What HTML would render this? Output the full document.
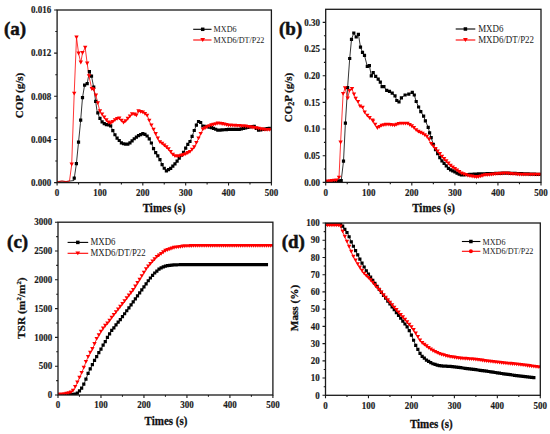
<!DOCTYPE html><html><head><meta charset="utf-8"><style>html,body{margin:0;padding:0;background:#fff}svg{display:block}</style></head><body><svg width="550" height="434" viewBox="0 0 550 434">
<style>.tl{font-family:"Liberation Serif", serif;font-weight:bold;font-size:9px;fill:#1a1a1a;stroke:#1a1a1a;stroke-width:0.15}.al{font-family:"Liberation Serif", serif;font-weight:bold;font-size:11px;fill:#111;stroke:#111;stroke-width:0.25}.pl{font-family:"Liberation Serif", serif;font-weight:bold;font-size:19px;fill:#111;stroke:#111;stroke-width:0.5}.lg{font-family:"Liberation Serif", serif;fill:#1a1a1a}</style>
<rect width="550" height="434" fill="#fff"/>
<text x="4" y="35" class="pl">(a)</text>
<text x="279" y="35" class="pl">(b)</text>
<text x="7.1" y="247.5" class="pl">(c)</text>
<text x="281.7" y="247.8" class="pl">(d)</text>
<text transform="translate(164.1 212.1) scale(1 1.12)" class="al" text-anchor="middle">Times (s)</text>
<text transform="translate(433.6 212.1) scale(1 1.12)" class="al" text-anchor="middle">Times (s)</text>
<text transform="translate(166 424.9) scale(1 1.12)" class="al" text-anchor="middle">Times (s)</text>
<text transform="translate(431.3 428) scale(1 1.12)" class="al" text-anchor="middle">Times (s)</text>
<text transform="translate(22.8 95.5) rotate(-90) scale(1.0 1)" class="al" text-anchor="middle">COP (g/s)</text>
<text transform="translate(291.6 97.5) rotate(-90) scale(1.0 1)" class="al" text-anchor="middle">CO<tspan font-size="8" dy="2.5">2</tspan><tspan dy="-2.5">P (g/s)</tspan></text>
<text transform="translate(25.4 308.2) rotate(-90) scale(1.04 1)" class="al" text-anchor="middle">TSR (m<tspan font-size="6.5" dy="-4">2</tspan><tspan dy="4">/m</tspan><tspan font-size="6.5" dy="-4">2</tspan><tspan dy="4">)</tspan></text>
<text transform="translate(298.2 308) rotate(-90) scale(1.02 1)" class="al" text-anchor="middle">Mass (%)</text>
<clipPath id="cpa"><rect x="57.1" y="10" width="214.3" height="172.6"/></clipPath>
<g clip-path="url(#cpa)">
<polyline points="57.1,181.8 62,181.2 66,181.6 73.9,180.5 76.3,164.6 78.5,142.4 80.4,123.5 82.5,97.6 84.6,85.1 87.2,83.6 89.4,71.6 91.5,76.2 93.7,87.2 96.9,110.2 99,116.5 101.5,121.4 104,123.5 106.3,124.7 110.3,125 112.7,130.3 116,136.8 121.6,143.2 125,144.2 128.9,144 133.7,139.2 137.7,136 143.4,133.3 148.2,136.8 151.5,143.2 153.9,149.7 157.9,156.1 160,159.6 163.1,166.9 166.4,170.8 170.2,168.8 175.3,163.5 179.1,158.4 184.2,151.4 186.7,145.9 190.5,140.8 193.5,132.4 197.6,122 199.7,120.9 202.9,126.1 210.2,127.2 218.5,130.3 229,129.3 239.4,129.3 254.1,126.1 258.3,130.3 269.8,128.2" fill="none" stroke="#000" stroke-width="0.8"/>
<polyline points="57.1,181.6 62,181 66,181.5 69.5,181 71.7,164.5 74.2,93.7 76.5,37.5 78.6,53.5 80.8,62.5 82.5,53 85.2,47.7 87.2,63.5 89,76.2 91.8,89 93.7,89.6 95.9,95.5 99.8,111 103.1,115.8 107.9,122.3 111.1,123.3 116,119.2 119.2,118.4 124,123.1 128.9,117.5 132.9,113.4 136.2,116 137.7,111 143.4,112.6 147.4,115.8 149.9,122.3 154.7,132 159.5,141.7 165.9,146.6 168.4,149 174,156 178,156.5 185,154.5 190.5,151.6 194.4,147 197,141.5 202.9,129.3 210.2,125.6 218.5,123.3 229,125.4 243.6,126.2 254.1,127.8 265,129.9 271.4,129.8" fill="none" stroke="#f00" stroke-width="0.8"/>
<path d="M72.64 176.62h3.2v3.2h-3.2zM74.79 162.12h3.2v3.2h-3.2zM76.93 140.5h3.2v3.2h-3.2zM79.07 118.53h3.2v3.2h-3.2zM94.07 99.79h3.2v3.2h-3.2zM96.22 111.35h3.2v3.2h-3.2zM98.36 116.78h3.2v3.2h-3.2zM100.5 120.31h3.2v3.2h-3.2zM102.65 122.03h3.2v3.2h-3.2zM104.79 123.11h3.2v3.2h-3.2zM106.93 123.27h3.2v3.2h-3.2zM109.08 124.23h3.2v3.2h-3.2zM111.22 128.93h3.2v3.2h-3.2zM113.36 133.15h3.2v3.2h-3.2zM115.5 136.46h3.2v3.2h-3.2zM117.65 138.91h3.2v3.2h-3.2zM119.79 141.36h3.2v3.2h-3.2zM121.93 142.17h3.2v3.2h-3.2zM124.08 142.57h3.2v3.2h-3.2zM126.22 142.46h3.2v3.2h-3.2zM128.36 141.34h3.2v3.2h-3.2zM130.5 139.19h3.2v3.2h-3.2zM132.65 137.16h3.2v3.2h-3.2zM134.79 135.45h3.2v3.2h-3.2zM136.93 134h3.2v3.2h-3.2zM139.08 132.99h3.2v3.2h-3.2zM141.22 131.97h3.2v3.2h-3.2zM143.36 132.84h3.2v3.2h-3.2zM145.51 134.4h3.2v3.2h-3.2zM147.65 137.23h3.2v3.2h-3.2zM149.79 141.39h3.2v3.2h-3.2zM151.94 147.11h3.2v3.2h-3.2zM154.08 150.94h3.2v3.2h-3.2zM156.22 154.37h3.2v3.2h-3.2zM158.36 157.94h3.2v3.2h-3.2zM160.51 162.96h3.2v3.2h-3.2zM162.65 166.66h3.2v3.2h-3.2zM164.79 169.19h3.2v3.2h-3.2zM166.94 168.08h3.2v3.2h-3.2zM169.08 166.7h3.2v3.2h-3.2zM171.22 164.48h3.2v3.2h-3.2zM173.37 162.25h3.2v3.2h-3.2zM175.51 159.47h3.2v3.2h-3.2zM177.65 156.59h3.2v3.2h-3.2zM179.79 153.65h3.2v3.2h-3.2zM181.94 150.71h3.2v3.2h-3.2zM184.08 146.54h3.2v3.2h-3.2zM186.22 142.79h3.2v3.2h-3.2zM188.37 139.92h3.2v3.2h-3.2zM190.51 134.69h3.2v3.2h-3.2zM192.65 128.89h3.2v3.2h-3.2zM194.79 123.46h3.2v3.2h-3.2zM196.94 119.91h3.2v3.2h-3.2zM199.08 120.89h3.2v3.2h-3.2zM201.22 124.38h3.2v3.2h-3.2zM203.37 124.81h3.2v3.2h-3.2zM205.51 125.13h3.2v3.2h-3.2zM207.65 125.46h3.2v3.2h-3.2zM209.8 126.05h3.2v3.2h-3.2zM211.94 126.85h3.2v3.2h-3.2zM214.08 127.65h3.2v3.2h-3.2zM216.22 128.45h3.2v3.2h-3.2zM218.37 128.56h3.2v3.2h-3.2zM220.51 128.36h3.2v3.2h-3.2zM222.65 128.15h3.2v3.2h-3.2zM224.8 127.95h3.2v3.2h-3.2zM226.94 127.74h3.2v3.2h-3.2zM229.08 127.7h3.2v3.2h-3.2zM231.23 127.7h3.2v3.2h-3.2zM233.37 127.7h3.2v3.2h-3.2zM235.51 127.7h3.2v3.2h-3.2zM237.65 127.7h3.2v3.2h-3.2zM239.8 127.27h3.2v3.2h-3.2zM241.94 126.8h3.2v3.2h-3.2zM244.08 126.33h3.2v3.2h-3.2zM246.23 125.87h3.2v3.2h-3.2zM248.37 125.4h3.2v3.2h-3.2zM250.51 124.93h3.2v3.2h-3.2zM252.66 124.66h3.2v3.2h-3.2zM254.8 126.8h3.2v3.2h-3.2zM256.94 128.66h3.2v3.2h-3.2zM259.08 128.26h3.2v3.2h-3.2zM261.23 127.87h3.2v3.2h-3.2zM263.37 127.48h3.2v3.2h-3.2zM265.51 127.09h3.2v3.2h-3.2zM267.66 126.7h3.2v3.2h-3.2zM80.9 96h3.2v3.2h-3.2zM83 83.5h3.2v3.2h-3.2zM85.6 82h3.2v3.2h-3.2zM87.8 70h3.2v3.2h-3.2zM89.9 74.6h3.2v3.2h-3.2zM92.1 85.6h3.2v3.2h-3.2z" fill="#000"/>
<path d="M95.62 101.22h4.4l-2.2 3.8zM97.76 109.33h4.4l-2.2 3.8zM99.9 112.45h4.4l-2.2 3.8zM102.05 115.45h4.4l-2.2 3.8zM104.19 118.35h4.4l-2.2 3.8zM106.33 120.6h4.4l-2.2 3.8zM108.47 121.27h4.4l-2.2 3.8zM110.62 119.96h4.4l-2.2 3.8zM112.76 118.17h4.4l-2.2 3.8zM114.9 117.02h4.4l-2.2 3.8zM117.05 116.55h4.4l-2.2 3.8zM119.19 118.64h4.4l-2.2 3.8zM121.33 120.74h4.4l-2.2 3.8zM123.48 119.28h4.4l-2.2 3.8zM125.62 116.84h4.4l-2.2 3.8zM127.76 114.51h4.4l-2.2 3.8zM129.91 112.31h4.4l-2.2 3.8zM132.05 112.56h4.4l-2.2 3.8zM134.19 113.46h4.4l-2.2 3.8zM136.33 109.33h4.4l-2.2 3.8zM138.48 109.94h4.4l-2.2 3.8zM140.62 110.54h4.4l-2.2 3.8zM142.76 111.95h4.4l-2.2 3.8zM144.91 113.66h4.4l-2.2 3.8zM147.05 118.71h4.4l-2.2 3.8zM149.19 123.42h4.4l-2.2 3.8zM151.34 127.75h4.4l-2.2 3.8zM153.48 132.08h4.4l-2.2 3.8zM155.62 136.41h4.4l-2.2 3.8zM157.76 140.16h4.4l-2.2 3.8zM159.91 141.8h4.4l-2.2 3.8zM162.05 143.44h4.4l-2.2 3.8zM164.19 145.17h4.4l-2.2 3.8zM166.34 147.27h4.4l-2.2 3.8zM168.48 149.95h4.4l-2.2 3.8zM170.62 152.63h4.4l-2.2 3.8zM172.77 154.22h4.4l-2.2 3.8zM174.91 154.49h4.4l-2.2 3.8zM177.05 154.24h4.4l-2.2 3.8zM179.19 153.63h4.4l-2.2 3.8zM181.34 153.02h4.4l-2.2 3.8zM183.48 152.24h4.4l-2.2 3.8zM185.62 151.11h4.4l-2.2 3.8zM187.77 149.98h4.4l-2.2 3.8zM189.91 147.8h4.4l-2.2 3.8zM192.05 145.27h4.4l-2.2 3.8zM194.19 140.88h4.4l-2.2 3.8zM196.34 136.42h4.4l-2.2 3.8zM198.48 131.99h4.4l-2.2 3.8zM200.62 127.56h4.4l-2.2 3.8zM202.77 126.35h4.4l-2.2 3.8zM204.91 125.27h4.4l-2.2 3.8zM207.05 124.18h4.4l-2.2 3.8zM209.2 123.37h4.4l-2.2 3.8zM211.34 122.77h4.4l-2.2 3.8zM213.48 122.18h4.4l-2.2 3.8zM215.62 121.59h4.4l-2.2 3.8zM217.77 121.69h4.4l-2.2 3.8zM219.91 122.12h4.4l-2.2 3.8zM222.05 122.55h4.4l-2.2 3.8zM224.2 122.98h4.4l-2.2 3.8zM226.34 123.41h4.4l-2.2 3.8zM228.48 123.59h4.4l-2.2 3.8zM230.63 123.71h4.4l-2.2 3.8zM232.77 123.83h4.4l-2.2 3.8zM234.91 123.94h4.4l-2.2 3.8zM237.05 124.06h4.4l-2.2 3.8zM239.2 124.18h4.4l-2.2 3.8zM241.34 124.3h4.4l-2.2 3.8zM243.48 124.62h4.4l-2.2 3.8zM245.63 124.94h4.4l-2.2 3.8zM247.77 125.27h4.4l-2.2 3.8zM249.91 125.6h4.4l-2.2 3.8zM252.06 125.93h4.4l-2.2 3.8zM254.2 126.34h4.4l-2.2 3.8zM256.34 126.76h4.4l-2.2 3.8zM258.49 127.17h4.4l-2.2 3.8zM260.63 127.58h4.4l-2.2 3.8zM262.77 127.99h4.4l-2.2 3.8zM264.91 127.97h4.4l-2.2 3.8zM267.06 127.93h4.4l-2.2 3.8zM269.2 127.9h4.4l-2.2 3.8zM69.5 162.6h4.4l-2.2 3.8zM72 91.8h4.4l-2.2 3.8zM74.3 35.6h4.4l-2.2 3.8zM76.4 51.6h4.4l-2.2 3.8zM78.6 60.6h4.4l-2.2 3.8zM80.3 51.1h4.4l-2.2 3.8zM83 45.8h4.4l-2.2 3.8zM85 61.6h4.4l-2.2 3.8zM86.8 74.3h4.4l-2.2 3.8zM89.6 87.1h4.4l-2.2 3.8zM91.5 87.7h4.4l-2.2 3.8zM93.7 93.6h4.4l-2.2 3.8z" fill="#f00"/>
</g>
<clipPath id="cpb"><rect x="325.7" y="9.3" width="215.3" height="173.1"/></clipPath>
<g clip-path="url(#cpb)">
<polyline points="325.5,181.8 341.2,180.7 343.5,161.2 345.4,123.2 347.6,87.6 349.7,58.5 351.5,39.4 353.8,33 356.2,37 358.4,34.3 360.5,47.2 362.5,52.3 364.5,55.4 367.3,66.4 369.4,65.6 371.3,75.8 373.2,72.6 375.7,76.4 378.2,79.2 380.3,82.1 382.1,86.7 383.9,86.7 386.7,90.4 389.5,91.3 392.2,93.2 395,95.9 396.8,100.5 399,102 401.4,97.8 405.1,95 408.8,94.1 412.3,92.3 414.3,95 416.2,101.5 418.6,107 420.8,111.6 423.6,116.2 425.4,120.8 428.2,127.3 429.6,132.8 434.5,147.9 441.1,159.9 449.1,169.1 461,175 479.6,173.9 506.1,173.1 539.3,174.4" fill="none" stroke="#000" stroke-width="0.8"/>
<polyline points="325.5,181.5 332,181 336.5,180.4 339,177.7 340.6,142.5 343.1,93.8 345.1,88.1 347.7,98.4 349.4,90.9 352,89 354,94.4 355.7,98.7 358,101.9 360.1,106.3 362.6,107.6 364.7,112.3 367.3,115.7 369.6,118 372.4,120.3 377.5,128.2 382.1,125.4 387.6,124.5 395,125.4 399.6,123.6 407.9,123.6 413.4,127.3 417.1,131 422.6,133.7 428.2,137.4 430.5,143 437.1,150.8 443.8,158.7 451.7,166.7 461,173.3 469,176 476.9,177.3 484.9,175.2 504.8,173.3 519.4,174.6 541,174.6" fill="none" stroke="#f00" stroke-width="0.8"/>
<path d="M324.1 180.19h3.2v3.2h-3.2zM326.25 180.04h3.2v3.2h-3.2zM328.41 179.88h3.2v3.2h-3.2zM330.56 179.73h3.2v3.2h-3.2zM332.71 179.58h3.2v3.2h-3.2zM334.86 179.43h3.2v3.2h-3.2zM337.02 179.28h3.2v3.2h-3.2zM339.17 179.13h3.2v3.2h-3.2zM429.6 136.12h3.2v3.2h-3.2zM431.75 142.76h3.2v3.2h-3.2zM433.9 148.12h3.2v3.2h-3.2zM436.06 152.04h3.2v3.2h-3.2zM438.21 155.95h3.2v3.2h-3.2zM440.36 159.29h3.2v3.2h-3.2zM442.51 161.77h3.2v3.2h-3.2zM444.67 164.24h3.2v3.2h-3.2zM446.82 166.72h3.2v3.2h-3.2zM448.97 168.23h3.2v3.2h-3.2zM451.13 169.3h3.2v3.2h-3.2zM453.28 170.37h3.2v3.2h-3.2zM455.43 171.43h3.2v3.2h-3.2zM457.59 172.5h3.2v3.2h-3.2zM459.74 173.38h3.2v3.2h-3.2zM461.89 173.25h3.2v3.2h-3.2zM464.04 173.13h3.2v3.2h-3.2zM466.2 173h3.2v3.2h-3.2zM468.35 172.87h3.2v3.2h-3.2zM470.5 172.74h3.2v3.2h-3.2zM472.66 172.62h3.2v3.2h-3.2zM474.81 172.49h3.2v3.2h-3.2zM476.96 172.36h3.2v3.2h-3.2zM479.12 172.27h3.2v3.2h-3.2zM481.27 172.2h3.2v3.2h-3.2zM483.42 172.14h3.2v3.2h-3.2zM485.57 172.07h3.2v3.2h-3.2zM487.73 172.01h3.2v3.2h-3.2zM489.88 171.94h3.2v3.2h-3.2zM492.03 171.88h3.2v3.2h-3.2zM494.19 171.81h3.2v3.2h-3.2zM496.34 171.75h3.2v3.2h-3.2zM498.49 171.68h3.2v3.2h-3.2zM500.65 171.62h3.2v3.2h-3.2zM502.8 171.55h3.2v3.2h-3.2zM504.95 171.52h3.2v3.2h-3.2zM507.1 171.6h3.2v3.2h-3.2zM509.26 171.69h3.2v3.2h-3.2zM511.41 171.77h3.2v3.2h-3.2zM513.56 171.85h3.2v3.2h-3.2zM515.72 171.94h3.2v3.2h-3.2zM517.87 172.02h3.2v3.2h-3.2zM520.02 172.11h3.2v3.2h-3.2zM522.18 172.19h3.2v3.2h-3.2zM524.33 172.28h3.2v3.2h-3.2zM526.48 172.36h3.2v3.2h-3.2zM528.63 172.45h3.2v3.2h-3.2zM530.79 172.53h3.2v3.2h-3.2zM532.94 172.61h3.2v3.2h-3.2zM535.09 172.7h3.2v3.2h-3.2zM537.25 172.78h3.2v3.2h-3.2zM339.6 179.1h3.2v3.2h-3.2zM341.9 159.6h3.2v3.2h-3.2zM343.8 121.6h3.2v3.2h-3.2zM346 86h3.2v3.2h-3.2zM348.1 56.9h3.2v3.2h-3.2zM349.9 37.8h3.2v3.2h-3.2zM352.2 31.4h3.2v3.2h-3.2zM354.6 35.4h3.2v3.2h-3.2zM356.8 32.7h3.2v3.2h-3.2zM358.9 45.6h3.2v3.2h-3.2zM360.9 50.7h3.2v3.2h-3.2zM362.9 53.8h3.2v3.2h-3.2zM365.7 64.8h3.2v3.2h-3.2zM367.8 64h3.2v3.2h-3.2zM369.7 74.2h3.2v3.2h-3.2zM371.6 71h3.2v3.2h-3.2zM374.1 74.8h3.2v3.2h-3.2zM376.6 77.6h3.2v3.2h-3.2zM378.7 80.5h3.2v3.2h-3.2zM380.5 85.1h3.2v3.2h-3.2zM382.3 85.1h3.2v3.2h-3.2zM385.1 88.8h3.2v3.2h-3.2zM387.9 89.7h3.2v3.2h-3.2zM390.6 91.6h3.2v3.2h-3.2zM393.4 94.3h3.2v3.2h-3.2zM395.2 98.9h3.2v3.2h-3.2zM397.4 100.4h3.2v3.2h-3.2zM399.8 96.2h3.2v3.2h-3.2zM403.5 93.4h3.2v3.2h-3.2zM407.2 92.5h3.2v3.2h-3.2zM410.7 90.7h3.2v3.2h-3.2zM412.7 93.4h3.2v3.2h-3.2zM414.6 99.9h3.2v3.2h-3.2zM417 105.4h3.2v3.2h-3.2zM419.2 110h3.2v3.2h-3.2zM422 114.6h3.2v3.2h-3.2zM423.8 119.2h3.2v3.2h-3.2zM426.6 125.7h3.2v3.2h-3.2zM428 131.2h3.2v3.2h-3.2z" fill="#000"/>
<path d="M323.5 179.58h4.4l-2.2 3.8zM325.65 179.42h4.4l-2.2 3.8zM327.81 179.25h4.4l-2.2 3.8zM329.96 179.08h4.4l-2.2 3.8zM332.11 178.79h4.4l-2.2 3.8zM334.26 178.5h4.4l-2.2 3.8zM370.87 119.43h4.4l-2.2 3.8zM373.02 122.77h4.4l-2.2 3.8zM375.17 126.1h4.4l-2.2 3.8zM377.32 125.07h4.4l-2.2 3.8zM379.48 123.76h4.4l-2.2 3.8zM381.63 123.22h4.4l-2.2 3.8zM383.78 122.86h4.4l-2.2 3.8zM385.94 122.67h4.4l-2.2 3.8zM388.09 122.93h4.4l-2.2 3.8zM390.24 123.19h4.4l-2.2 3.8zM392.4 123.45h4.4l-2.2 3.8zM394.55 122.82h4.4l-2.2 3.8zM396.7 121.97h4.4l-2.2 3.8zM398.86 121.7h4.4l-2.2 3.8zM401.01 121.7h4.4l-2.2 3.8zM403.16 121.7h4.4l-2.2 3.8zM405.31 121.7h4.4l-2.2 3.8zM407.47 122.89h4.4l-2.2 3.8zM409.62 124.34h4.4l-2.2 3.8zM411.77 125.97h4.4l-2.2 3.8zM413.93 128.13h4.4l-2.2 3.8zM416.08 129.68h4.4l-2.2 3.8zM418.23 130.74h4.4l-2.2 3.8zM420.38 131.79h4.4l-2.2 3.8zM422.54 133.21h4.4l-2.2 3.8zM424.69 134.64h4.4l-2.2 3.8zM426.84 137.55h4.4l-2.2 3.8zM429 141.92h4.4l-2.2 3.8zM431.15 144.47h4.4l-2.2 3.8zM433.3 147.01h4.4l-2.2 3.8zM435.46 149.56h4.4l-2.2 3.8zM437.61 152.09h4.4l-2.2 3.8zM439.76 154.63h4.4l-2.2 3.8zM441.92 157.12h4.4l-2.2 3.8zM444.07 159.3h4.4l-2.2 3.8zM446.22 161.48h4.4l-2.2 3.8zM448.37 163.66h4.4l-2.2 3.8zM450.53 165.53h4.4l-2.2 3.8zM452.68 167.06h4.4l-2.2 3.8zM454.83 168.58h4.4l-2.2 3.8zM456.99 170.11h4.4l-2.2 3.8zM459.14 171.51h4.4l-2.2 3.8zM461.29 172.24h4.4l-2.2 3.8zM463.44 172.97h4.4l-2.2 3.8zM465.6 173.69h4.4l-2.2 3.8zM467.75 174.26h4.4l-2.2 3.8zM469.9 174.61h4.4l-2.2 3.8zM472.06 174.97h4.4l-2.2 3.8zM474.21 175.32h4.4l-2.2 3.8zM476.36 174.96h4.4l-2.2 3.8zM478.52 174.4h4.4l-2.2 3.8zM480.67 173.83h4.4l-2.2 3.8zM482.82 173.29h4.4l-2.2 3.8zM484.98 173.08h4.4l-2.2 3.8zM487.13 172.88h4.4l-2.2 3.8zM489.28 172.67h4.4l-2.2 3.8zM491.43 172.47h4.4l-2.2 3.8zM493.59 172.26h4.4l-2.2 3.8zM495.74 172.05h4.4l-2.2 3.8zM497.89 171.85h4.4l-2.2 3.8zM500.05 171.64h4.4l-2.2 3.8zM502.2 171.44h4.4l-2.2 3.8zM504.35 171.56h4.4l-2.2 3.8zM506.5 171.75h4.4l-2.2 3.8zM508.66 171.94h4.4l-2.2 3.8zM510.81 172.13h4.4l-2.2 3.8zM512.96 172.32h4.4l-2.2 3.8zM515.12 172.51h4.4l-2.2 3.8zM517.27 172.7h4.4l-2.2 3.8zM519.42 172.7h4.4l-2.2 3.8zM521.58 172.7h4.4l-2.2 3.8zM523.73 172.7h4.4l-2.2 3.8zM525.88 172.7h4.4l-2.2 3.8zM528.03 172.7h4.4l-2.2 3.8zM530.19 172.7h4.4l-2.2 3.8zM532.34 172.7h4.4l-2.2 3.8zM534.49 172.7h4.4l-2.2 3.8zM536.65 172.7h4.4l-2.2 3.8zM538.8 172.7h4.4l-2.2 3.8zM336.8 175.8h4.4l-2.2 3.8zM338.4 140.6h4.4l-2.2 3.8zM340.9 91.9h4.4l-2.2 3.8zM342.9 86.2h4.4l-2.2 3.8zM345.5 96.5h4.4l-2.2 3.8zM347.2 89h4.4l-2.2 3.8zM349.8 87.1h4.4l-2.2 3.8zM351.8 92.5h4.4l-2.2 3.8zM353.5 96.8h4.4l-2.2 3.8zM355.8 100h4.4l-2.2 3.8zM357.9 104.4h4.4l-2.2 3.8zM360.4 105.7h4.4l-2.2 3.8zM362.5 110.4h4.4l-2.2 3.8zM365.1 113.8h4.4l-2.2 3.8zM367.4 116.1h4.4l-2.2 3.8zM370.2 118.4h4.4l-2.2 3.8z" fill="#f00"/>
</g>
<clipPath id="cpc"><rect x="58" y="222.2" width="214.9" height="172.8"/></clipPath>
<g clip-path="url(#cpc)">
<polyline points="58,394.6 74,394.4 76.8,393.6 79.5,390.9 82.3,387.3 84.5,382.7 86.3,378.1 88.2,373.1 90.4,368.5 92.5,364.5 94.5,360.5 96.8,356.4 99.1,352.1 101.4,348.5 103.4,344.5 105.5,341.2 107.3,337.5 109.5,333.9 111.8,330.3 114.1,327.5 116.4,324.4 118.6,321.6 120.9,318.9 141.4,290.5 148.2,280.8 153.6,274 159.1,269 164.5,266.3 170.9,265.1 180,264.7 268,264.7" fill="none" stroke="#000" stroke-width="0.8"/>
<polyline points="58,394.6 64,394.2 68,393.5 72.3,391.8 75,387.3 77.2,382.7 79.2,378.2 81.8,372.5 84.1,366.8 86.1,361.5 88.2,356.6 90.5,352.1 92.7,348.5 96.4,339.4 99.1,334.8 101.8,330.3 104.5,326.6 107.3,323.5 109.5,320.7 111.8,317.5 133.2,290 146.9,267.8 156.1,257.5 165.3,250.8 174.5,247.6 185,246.2 195,245.9 272.9,245.8" fill="none" stroke="#f00" stroke-width="0.8"/>
<path d="M56.4 393h3.2v3.2h-3.2zM58.55 392.97h3.2v3.2h-3.2zM60.7 392.95h3.2v3.2h-3.2zM62.85 392.92h3.2v3.2h-3.2zM65 392.89h3.2v3.2h-3.2zM67.15 392.87h3.2v3.2h-3.2zM69.29 392.84h3.2v3.2h-3.2zM71.44 392.81h3.2v3.2h-3.2zM73.59 392.46h3.2v3.2h-3.2zM75.74 391.46h3.2v3.2h-3.2zM77.89 389.31h3.2v3.2h-3.2zM80.04 386.55h3.2v3.2h-3.2zM82.19 382.59h3.2v3.2h-3.2zM84.34 377.43h3.2v3.2h-3.2zM86.49 371.8h3.2v3.2h-3.2zM88.63 367.25h3.2v3.2h-3.2zM90.78 363.12h3.2v3.2h-3.2zM92.93 358.84h3.2v3.2h-3.2zM95.08 355.01h3.2v3.2h-3.2zM97.23 351h3.2v3.2h-3.2zM99.38 347.56h3.2v3.2h-3.2zM101.53 343.44h3.2v3.2h-3.2zM103.68 339.95h3.2v3.2h-3.2zM105.83 335.69h3.2v3.2h-3.2zM107.98 332.18h3.2v3.2h-3.2zM110.12 328.82h3.2v3.2h-3.2zM112.27 326.18h3.2v3.2h-3.2zM114.42 323.31h3.2v3.2h-3.2zM116.57 320.54h3.2v3.2h-3.2zM118.72 317.98h3.2v3.2h-3.2zM120.87 315.12h3.2v3.2h-3.2zM123.02 312.15h3.2v3.2h-3.2zM125.17 309.17h3.2v3.2h-3.2zM127.32 306.19h3.2v3.2h-3.2zM129.47 303.22h3.2v3.2h-3.2zM131.61 300.24h3.2v3.2h-3.2zM133.76 297.26h3.2v3.2h-3.2zM135.91 294.28h3.2v3.2h-3.2zM138.06 291.31h3.2v3.2h-3.2zM140.21 288.31h3.2v3.2h-3.2zM142.36 285.25h3.2v3.2h-3.2zM144.51 282.18h3.2v3.2h-3.2zM146.66 279.13h3.2v3.2h-3.2zM148.81 276.42h3.2v3.2h-3.2zM150.96 273.71h3.2v3.2h-3.2zM153.1 271.4h3.2v3.2h-3.2zM155.25 269.44h3.2v3.2h-3.2zM157.4 267.49h3.2v3.2h-3.2zM159.55 266.37h3.2v3.2h-3.2zM161.7 265.3h3.2v3.2h-3.2zM163.85 264.52h3.2v3.2h-3.2zM166 264.12h3.2v3.2h-3.2zM168.15 263.72h3.2v3.2h-3.2zM170.3 263.46h3.2v3.2h-3.2zM172.45 263.36h3.2v3.2h-3.2zM174.59 263.27h3.2v3.2h-3.2zM176.74 263.17h3.2v3.2h-3.2zM178.89 263.1h3.2v3.2h-3.2zM181.04 263.1h3.2v3.2h-3.2zM183.19 263.1h3.2v3.2h-3.2zM185.34 263.1h3.2v3.2h-3.2zM187.49 263.1h3.2v3.2h-3.2zM189.64 263.1h3.2v3.2h-3.2zM191.79 263.1h3.2v3.2h-3.2zM193.94 263.1h3.2v3.2h-3.2zM196.09 263.1h3.2v3.2h-3.2zM198.23 263.1h3.2v3.2h-3.2zM200.38 263.1h3.2v3.2h-3.2zM202.53 263.1h3.2v3.2h-3.2zM204.68 263.1h3.2v3.2h-3.2zM206.83 263.1h3.2v3.2h-3.2zM208.98 263.1h3.2v3.2h-3.2zM211.13 263.1h3.2v3.2h-3.2zM213.28 263.1h3.2v3.2h-3.2zM215.43 263.1h3.2v3.2h-3.2zM217.57 263.1h3.2v3.2h-3.2zM219.72 263.1h3.2v3.2h-3.2zM221.87 263.1h3.2v3.2h-3.2zM224.02 263.1h3.2v3.2h-3.2zM226.17 263.1h3.2v3.2h-3.2zM228.32 263.1h3.2v3.2h-3.2zM230.47 263.1h3.2v3.2h-3.2zM232.62 263.1h3.2v3.2h-3.2zM234.77 263.1h3.2v3.2h-3.2zM236.92 263.1h3.2v3.2h-3.2zM239.06 263.1h3.2v3.2h-3.2zM241.21 263.1h3.2v3.2h-3.2zM243.36 263.1h3.2v3.2h-3.2zM245.51 263.1h3.2v3.2h-3.2zM247.66 263.1h3.2v3.2h-3.2zM249.81 263.1h3.2v3.2h-3.2zM251.96 263.1h3.2v3.2h-3.2zM254.11 263.1h3.2v3.2h-3.2zM256.26 263.1h3.2v3.2h-3.2zM258.41 263.1h3.2v3.2h-3.2zM260.55 263.1h3.2v3.2h-3.2zM262.7 263.1h3.2v3.2h-3.2zM264.85 263.1h3.2v3.2h-3.2z" fill="#000"/>
<path d="M55.8 392.7h4.4l-2.2 3.8zM57.95 392.56h4.4l-2.2 3.8zM60.1 392.41h4.4l-2.2 3.8zM62.25 392.22h4.4l-2.2 3.8zM64.4 391.85h4.4l-2.2 3.8zM66.55 391.31h4.4l-2.2 3.8zM68.69 390.46h4.4l-2.2 3.8zM70.84 388.66h4.4l-2.2 3.8zM72.99 385h4.4l-2.2 3.8zM75.14 380.48h4.4l-2.2 3.8zM77.29 375.66h4.4l-2.2 3.8zM79.44 370.95h4.4l-2.2 3.8zM81.59 365.67h4.4l-2.2 3.8zM83.74 360.03h4.4l-2.2 3.8zM85.89 354.97h4.4l-2.2 3.8zM88.03 350.72h4.4l-2.2 3.8zM90.18 347.12h4.4l-2.2 3.8zM92.33 342.09h4.4l-2.2 3.8zM94.48 337.02h4.4l-2.2 3.8zM96.63 333.36h4.4l-2.2 3.8zM98.78 329.77h4.4l-2.2 3.8zM100.93 326.58h4.4l-2.2 3.8zM103.08 323.84h4.4l-2.2 3.8zM105.23 321.44h4.4l-2.2 3.8zM107.38 318.69h4.4l-2.2 3.8zM109.52 315.7h4.4l-2.2 3.8zM111.67 312.93h4.4l-2.2 3.8zM113.82 310.17h4.4l-2.2 3.8zM115.97 307.41h4.4l-2.2 3.8zM118.12 304.65h4.4l-2.2 3.8zM120.27 301.89h4.4l-2.2 3.8zM122.42 299.13h4.4l-2.2 3.8zM124.57 296.37h4.4l-2.2 3.8zM126.72 293.6h4.4l-2.2 3.8zM128.87 290.84h4.4l-2.2 3.8zM131.01 288.08h4.4l-2.2 3.8zM133.16 284.59h4.4l-2.2 3.8zM135.31 281.11h4.4l-2.2 3.8zM137.46 277.63h4.4l-2.2 3.8zM139.61 274.15h4.4l-2.2 3.8zM141.76 270.66h4.4l-2.2 3.8zM143.91 267.18h4.4l-2.2 3.8zM146.06 264.38h4.4l-2.2 3.8zM148.21 261.97h4.4l-2.2 3.8zM150.36 259.57h4.4l-2.2 3.8zM152.5 257.16h4.4l-2.2 3.8zM154.65 255.05h4.4l-2.2 3.8zM156.8 253.49h4.4l-2.2 3.8zM158.95 251.92h4.4l-2.2 3.8zM161.1 250.36h4.4l-2.2 3.8zM163.25 248.85h4.4l-2.2 3.8zM165.4 248.1h4.4l-2.2 3.8zM167.55 247.35h4.4l-2.2 3.8zM169.7 246.61h4.4l-2.2 3.8zM171.85 245.86h4.4l-2.2 3.8zM174 245.47h4.4l-2.2 3.8zM176.14 245.19h4.4l-2.2 3.8zM178.29 244.9h4.4l-2.2 3.8zM180.44 244.61h4.4l-2.2 3.8zM182.59 244.33h4.4l-2.2 3.8zM184.74 244.24h4.4l-2.2 3.8zM186.89 244.18h4.4l-2.2 3.8zM189.04 244.11h4.4l-2.2 3.8zM191.19 244.05h4.4l-2.2 3.8zM193.34 244h4.4l-2.2 3.8zM195.49 244h4.4l-2.2 3.8zM197.63 243.99h4.4l-2.2 3.8zM199.78 243.99h4.4l-2.2 3.8zM201.93 243.99h4.4l-2.2 3.8zM204.08 243.99h4.4l-2.2 3.8zM206.23 243.98h4.4l-2.2 3.8zM208.38 243.98h4.4l-2.2 3.8zM210.53 243.98h4.4l-2.2 3.8zM212.68 243.97h4.4l-2.2 3.8zM214.83 243.97h4.4l-2.2 3.8zM216.97 243.97h4.4l-2.2 3.8zM219.12 243.97h4.4l-2.2 3.8zM221.27 243.96h4.4l-2.2 3.8zM223.42 243.96h4.4l-2.2 3.8zM225.57 243.96h4.4l-2.2 3.8zM227.72 243.96h4.4l-2.2 3.8zM229.87 243.95h4.4l-2.2 3.8zM232.02 243.95h4.4l-2.2 3.8zM234.17 243.95h4.4l-2.2 3.8zM236.32 243.94h4.4l-2.2 3.8zM238.46 243.94h4.4l-2.2 3.8zM240.61 243.94h4.4l-2.2 3.8zM242.76 243.94h4.4l-2.2 3.8zM244.91 243.93h4.4l-2.2 3.8zM247.06 243.93h4.4l-2.2 3.8zM249.21 243.93h4.4l-2.2 3.8zM251.36 243.92h4.4l-2.2 3.8zM253.51 243.92h4.4l-2.2 3.8zM255.66 243.92h4.4l-2.2 3.8zM257.81 243.92h4.4l-2.2 3.8zM259.95 243.91h4.4l-2.2 3.8zM262.1 243.91h4.4l-2.2 3.8zM264.25 243.91h4.4l-2.2 3.8zM266.4 243.91h4.4l-2.2 3.8zM268.55 243.9h4.4l-2.2 3.8zM270.7 243.9h4.4l-2.2 3.8z" fill="#f00"/>
</g>
<clipPath id="cpd"><rect x="325.5" y="223" width="214.8" height="172.3"/></clipPath>
<g clip-path="url(#cpd)">
<polyline points="325.5,223.9 341,223.9 342.7,226.1 347.9,233.9 351.8,243 355.7,250.8 360.9,261.2 366,270.3 371.2,278.1 377.7,287.2 384.2,296.3 392,306.7 399.8,317.1 407.6,327.5 410.5,333 416,346 421.1,355.4 427,360.5 433,363.8 439.6,365.8 452.7,366.6 471.2,369.1 487,371.2 500.2,373.3 518.6,375.9 534.5,377.8" fill="none" stroke="#000" stroke-width="0.8"/>
<polyline points="325.5,225.3 340.1,225.3 341.4,228.7 345.3,237.8 349.2,246.9 353.1,256 358.3,265.1 363.5,273 370,279.5 379.1,289.9 386.9,299 394.7,308.1 405.1,319.8 412.9,328.9 421.1,342.2 431.6,350.1 439,353.8 447.5,356.4 460.6,358.5 473.8,359.3 487,361.2 505.5,363.3 518.6,364.6 540.3,367.4" fill="none" stroke="#f00" stroke-width="0.8"/>
<path d="M323.9 222.3h3.2v3.2h-3.2zM326.05 222.3h3.2v3.2h-3.2zM328.2 222.3h3.2v3.2h-3.2zM330.34 222.3h3.2v3.2h-3.2zM332.49 222.3h3.2v3.2h-3.2zM334.64 222.3h3.2v3.2h-3.2zM336.79 222.3h3.2v3.2h-3.2zM338.94 222.3h3.2v3.2h-3.2zM341.08 224.48h3.2v3.2h-3.2zM343.23 227.7h3.2v3.2h-3.2zM345.38 230.92h3.2v3.2h-3.2zM347.53 235.17h3.2v3.2h-3.2zM349.68 240.18h3.2v3.2h-3.2zM351.82 244.65h3.2v3.2h-3.2zM353.97 248.94h3.2v3.2h-3.2zM356.12 253.24h3.2v3.2h-3.2zM358.27 257.54h3.2v3.2h-3.2zM360.42 261.59h3.2v3.2h-3.2zM362.56 265.42h3.2v3.2h-3.2zM364.71 269.17h3.2v3.2h-3.2zM366.86 272.39h3.2v3.2h-3.2zM369.01 275.61h3.2v3.2h-3.2zM371.16 278.68h3.2v3.2h-3.2zM373.3 281.69h3.2v3.2h-3.2zM375.45 284.69h3.2v3.2h-3.2zM377.6 287.7h3.2v3.2h-3.2zM379.75 290.71h3.2v3.2h-3.2zM381.9 293.71h3.2v3.2h-3.2zM384.04 296.63h3.2v3.2h-3.2zM386.19 299.49h3.2v3.2h-3.2zM388.34 302.35h3.2v3.2h-3.2zM390.49 305.22h3.2v3.2h-3.2zM392.64 308.08h3.2v3.2h-3.2zM394.78 310.95h3.2v3.2h-3.2zM396.93 313.81h3.2v3.2h-3.2zM399.08 316.67h3.2v3.2h-3.2zM401.23 319.54h3.2v3.2h-3.2zM403.38 322.4h3.2v3.2h-3.2zM405.52 325.27h3.2v3.2h-3.2zM407.67 329.07h3.2v3.2h-3.2zM409.82 333.57h3.2v3.2h-3.2zM411.97 338.65h3.2v3.2h-3.2zM414.12 343.73h3.2v3.2h-3.2zM416.26 347.84h3.2v3.2h-3.2zM418.41 351.79h3.2v3.2h-3.2zM420.56 354.72h3.2v3.2h-3.2zM422.71 356.57h3.2v3.2h-3.2zM424.86 358.43h3.2v3.2h-3.2zM427 359.78h3.2v3.2h-3.2zM429.15 360.96h3.2v3.2h-3.2zM431.3 362.14h3.2v3.2h-3.2zM433.45 362.82h3.2v3.2h-3.2zM435.6 363.47h3.2v3.2h-3.2zM437.74 364.12h3.2v3.2h-3.2zM439.89 364.32h3.2v3.2h-3.2zM442.04 364.45h3.2v3.2h-3.2zM444.19 364.58h3.2v3.2h-3.2zM446.34 364.71h3.2v3.2h-3.2zM448.48 364.84h3.2v3.2h-3.2zM450.63 364.97h3.2v3.2h-3.2zM452.78 365.23h3.2v3.2h-3.2zM454.93 365.52h3.2v3.2h-3.2zM457.08 365.81h3.2v3.2h-3.2zM459.22 366.1h3.2v3.2h-3.2zM461.37 366.39h3.2v3.2h-3.2zM463.52 366.68h3.2v3.2h-3.2zM465.67 366.97h3.2v3.2h-3.2zM467.82 367.26h3.2v3.2h-3.2zM469.96 367.55h3.2v3.2h-3.2zM472.11 367.83h3.2v3.2h-3.2zM474.26 368.12h3.2v3.2h-3.2zM476.41 368.4h3.2v3.2h-3.2zM478.56 368.69h3.2v3.2h-3.2zM480.7 368.98h3.2v3.2h-3.2zM482.85 369.26h3.2v3.2h-3.2zM485 369.55h3.2v3.2h-3.2zM487.15 369.88h3.2v3.2h-3.2zM489.3 370.22h3.2v3.2h-3.2zM491.44 370.56h3.2v3.2h-3.2zM493.59 370.9h3.2v3.2h-3.2zM495.74 371.25h3.2v3.2h-3.2zM497.89 371.59h3.2v3.2h-3.2zM500.04 371.9h3.2v3.2h-3.2zM502.18 372.21h3.2v3.2h-3.2zM504.33 372.51h3.2v3.2h-3.2zM506.48 372.81h3.2v3.2h-3.2zM508.63 373.12h3.2v3.2h-3.2zM510.78 373.42h3.2v3.2h-3.2zM512.92 373.72h3.2v3.2h-3.2zM515.07 374.03h3.2v3.2h-3.2zM517.22 374.33h3.2v3.2h-3.2zM519.37 374.58h3.2v3.2h-3.2zM521.52 374.84h3.2v3.2h-3.2zM523.66 375.1h3.2v3.2h-3.2zM525.81 375.35h3.2v3.2h-3.2zM527.96 375.61h3.2v3.2h-3.2zM530.11 375.87h3.2v3.2h-3.2zM532.26 376.12h3.2v3.2h-3.2z" fill="#000"/>
<path d="M323.3 223.4h4.4l-2.2 3.8zM325.45 223.4h4.4l-2.2 3.8zM327.6 223.4h4.4l-2.2 3.8zM329.74 223.4h4.4l-2.2 3.8zM331.89 223.4h4.4l-2.2 3.8zM334.04 223.4h4.4l-2.2 3.8zM336.19 223.4h4.4l-2.2 3.8zM338.34 224.54h4.4l-2.2 3.8zM340.48 229.8h4.4l-2.2 3.8zM342.63 234.81h4.4l-2.2 3.8zM344.78 239.82h4.4l-2.2 3.8zM346.93 244.83h4.4l-2.2 3.8zM349.08 249.84h4.4l-2.2 3.8zM351.22 254.67h4.4l-2.2 3.8zM353.37 258.43h4.4l-2.2 3.8zM355.52 262.18h4.4l-2.2 3.8zM357.67 265.58h4.4l-2.2 3.8zM359.82 268.85h4.4l-2.2 3.8zM361.96 271.76h4.4l-2.2 3.8zM364.11 273.91h4.4l-2.2 3.8zM366.26 276.06h4.4l-2.2 3.8zM368.41 278.29h4.4l-2.2 3.8zM370.56 280.75h4.4l-2.2 3.8zM372.7 283.2h4.4l-2.2 3.8zM374.85 285.66h4.4l-2.2 3.8zM377 288.12h4.4l-2.2 3.8zM379.15 290.62h4.4l-2.2 3.8zM381.3 293.13h4.4l-2.2 3.8zM383.44 295.63h4.4l-2.2 3.8zM385.59 298.14h4.4l-2.2 3.8zM387.74 300.65h4.4l-2.2 3.8zM389.89 303.15h4.4l-2.2 3.8zM392.04 305.66h4.4l-2.2 3.8zM394.18 308.09h4.4l-2.2 3.8zM396.33 310.51h4.4l-2.2 3.8zM398.48 312.93h4.4l-2.2 3.8zM400.63 315.34h4.4l-2.2 3.8zM402.78 317.76h4.4l-2.2 3.8zM404.92 320.26h4.4l-2.2 3.8zM407.07 322.77h4.4l-2.2 3.8zM409.22 325.27h4.4l-2.2 3.8zM411.37 328.08h4.4l-2.2 3.8zM413.52 331.57h4.4l-2.2 3.8zM415.66 335.05h4.4l-2.2 3.8zM417.81 338.54h4.4l-2.2 3.8zM419.96 341.1h4.4l-2.2 3.8zM422.11 342.71h4.4l-2.2 3.8zM424.26 344.33h4.4l-2.2 3.8zM426.4 345.95h4.4l-2.2 3.8zM428.55 347.56h4.4l-2.2 3.8zM430.7 348.85h4.4l-2.2 3.8zM432.85 349.92h4.4l-2.2 3.8zM435 351h4.4l-2.2 3.8zM437.14 352.01h4.4l-2.2 3.8zM439.29 352.66h4.4l-2.2 3.8zM441.44 353.32h4.4l-2.2 3.8zM443.59 353.98h4.4l-2.2 3.8zM445.74 354.57h4.4l-2.2 3.8zM447.88 354.91h4.4l-2.2 3.8zM450.03 355.26h4.4l-2.2 3.8zM452.18 355.6h4.4l-2.2 3.8zM454.33 355.95h4.4l-2.2 3.8zM456.48 356.29h4.4l-2.2 3.8zM458.62 356.61h4.4l-2.2 3.8zM460.77 356.74h4.4l-2.2 3.8zM462.92 356.87h4.4l-2.2 3.8zM465.07 357h4.4l-2.2 3.8zM467.22 357.13h4.4l-2.2 3.8zM469.36 357.26h4.4l-2.2 3.8zM471.51 357.39h4.4l-2.2 3.8zM473.66 357.7h4.4l-2.2 3.8zM475.81 358.01h4.4l-2.2 3.8zM477.96 358.31h4.4l-2.2 3.8zM480.1 358.62h4.4l-2.2 3.8zM482.25 358.93h4.4l-2.2 3.8zM484.4 359.24h4.4l-2.2 3.8zM486.55 359.5h4.4l-2.2 3.8zM488.7 359.74h4.4l-2.2 3.8zM490.84 359.99h4.4l-2.2 3.8zM492.99 360.23h4.4l-2.2 3.8zM495.14 360.47h4.4l-2.2 3.8zM497.29 360.72h4.4l-2.2 3.8zM499.44 360.96h4.4l-2.2 3.8zM501.58 361.21h4.4l-2.2 3.8zM503.73 361.44h4.4l-2.2 3.8zM505.88 361.66h4.4l-2.2 3.8zM508.03 361.87h4.4l-2.2 3.8zM510.18 362.08h4.4l-2.2 3.8zM512.32 362.3h4.4l-2.2 3.8zM514.47 362.51h4.4l-2.2 3.8zM516.62 362.73h4.4l-2.2 3.8zM518.77 363.01h4.4l-2.2 3.8zM520.92 363.28h4.4l-2.2 3.8zM523.06 363.56h4.4l-2.2 3.8zM525.21 363.84h4.4l-2.2 3.8zM527.36 364.11h4.4l-2.2 3.8zM529.51 364.39h4.4l-2.2 3.8zM531.66 364.67h4.4l-2.2 3.8zM533.8 364.95h4.4l-2.2 3.8zM535.95 365.22h4.4l-2.2 3.8zM538.1 365.5h4.4l-2.2 3.8z" fill="#f00"/>
</g>
<rect x="57.1" y="10" width="214.3" height="172.6" fill="none" stroke="#1a1a1a" stroke-width="1.3"/>
<text transform="translate(57.1 195.8) scale(1 1.08)" class="tl" text-anchor="middle">0</text>
<text transform="translate(99.96 195.8) scale(1 1.08)" class="tl" text-anchor="middle">100</text>
<text transform="translate(142.82 195.8) scale(1 1.08)" class="tl" text-anchor="middle">200</text>
<text transform="translate(185.68 195.8) scale(1 1.08)" class="tl" text-anchor="middle">300</text>
<text transform="translate(228.54 195.8) scale(1 1.08)" class="tl" text-anchor="middle">400</text>
<text transform="translate(271.4 195.8) scale(1 1.08)" class="tl" text-anchor="middle">500</text>
<text transform="translate(51.3 185.8) scale(1 1.08)" class="tl" text-anchor="end">0.000</text>
<text transform="translate(51.3 142.65) scale(1 1.08)" class="tl" text-anchor="end">0.004</text>
<text transform="translate(51.3 99.5) scale(1 1.08)" class="tl" text-anchor="end">0.008</text>
<text transform="translate(51.3 56.35) scale(1 1.08)" class="tl" text-anchor="end">0.012</text>
<text transform="translate(51.3 13.2) scale(1 1.08)" class="tl" text-anchor="end">0.016</text>
<path d="M57.1 182.6V185.6 M78.53 182.6V184.4 M99.96 182.6V185.6 M121.39 182.6V184.4 M142.82 182.6V185.6 M164.25 182.6V184.4 M185.68 182.6V185.6 M207.11 182.6V184.4 M228.54 182.6V185.6 M249.97 182.6V184.4 M271.4 182.6V185.6 M57.1 182.6H54.1 M57.1 161.03H55.3 M57.1 139.45H54.1 M57.1 117.88H55.3 M57.1 96.3H54.1 M57.1 74.72H55.3 M57.1 53.15H54.1 M57.1 31.57H55.3 M57.1 10H54.1" stroke="#1a1a1a" stroke-width="1.1" fill="none"/>
<rect x="325.7" y="9.3" width="215.3" height="173.1" fill="none" stroke="#1a1a1a" stroke-width="1.3"/>
<text transform="translate(325.7 195.6) scale(1 1.08)" class="tl" text-anchor="middle">0</text>
<text transform="translate(368.76 195.6) scale(1 1.08)" class="tl" text-anchor="middle">100</text>
<text transform="translate(411.82 195.6) scale(1 1.08)" class="tl" text-anchor="middle">200</text>
<text transform="translate(454.88 195.6) scale(1 1.08)" class="tl" text-anchor="middle">300</text>
<text transform="translate(497.94 195.6) scale(1 1.08)" class="tl" text-anchor="middle">400</text>
<text transform="translate(541 195.6) scale(1 1.08)" class="tl" text-anchor="middle">500</text>
<text transform="translate(319.9 185.6) scale(1 1.08)" class="tl" text-anchor="end">0.00</text>
<text transform="translate(319.9 158.94) scale(1 1.08)" class="tl" text-anchor="end">0.05</text>
<text transform="translate(319.9 132.27) scale(1 1.08)" class="tl" text-anchor="end">0.10</text>
<text transform="translate(319.9 105.61) scale(1 1.08)" class="tl" text-anchor="end">0.15</text>
<text transform="translate(319.9 78.95) scale(1 1.08)" class="tl" text-anchor="end">0.20</text>
<text transform="translate(319.9 52.28) scale(1 1.08)" class="tl" text-anchor="end">0.25</text>
<text transform="translate(319.9 25.62) scale(1 1.08)" class="tl" text-anchor="end">0.30</text>
<path d="M325.7 182.4V185.4 M347.23 182.4V184.2 M368.76 182.4V185.4 M390.29 182.4V184.2 M411.82 182.4V185.4 M433.35 182.4V184.2 M454.88 182.4V185.4 M476.41 182.4V184.2 M497.94 182.4V185.4 M519.47 182.4V184.2 M541 182.4V185.4 M325.7 182.4H322.7 M325.7 169.07H323.9 M325.7 155.74H322.7 M325.7 142.4H323.9 M325.7 129.07H322.7 M325.7 115.74H323.9 M325.7 102.41H322.7 M325.7 89.08H323.9 M325.7 75.75H322.7 M325.7 62.41H323.9 M325.7 49.08H322.7 M325.7 35.75H323.9 M325.7 22.42H322.7" stroke="#1a1a1a" stroke-width="1.1" fill="none"/>
<rect x="58" y="222.2" width="214.9" height="172.8" fill="none" stroke="#1a1a1a" stroke-width="1.3"/>
<text transform="translate(58 408.2) scale(1 1.08)" class="tl" text-anchor="middle">0</text>
<text transform="translate(100.98 408.2) scale(1 1.08)" class="tl" text-anchor="middle">100</text>
<text transform="translate(143.96 408.2) scale(1 1.08)" class="tl" text-anchor="middle">200</text>
<text transform="translate(186.94 408.2) scale(1 1.08)" class="tl" text-anchor="middle">300</text>
<text transform="translate(229.92 408.2) scale(1 1.08)" class="tl" text-anchor="middle">400</text>
<text transform="translate(272.9 408.2) scale(1 1.08)" class="tl" text-anchor="middle">500</text>
<text transform="translate(52.2 398.2) scale(1 1.08)" class="tl" text-anchor="end">0</text>
<text transform="translate(52.2 369.4) scale(1 1.08)" class="tl" text-anchor="end">500</text>
<text transform="translate(52.2 340.6) scale(1 1.08)" class="tl" text-anchor="end">1000</text>
<text transform="translate(52.2 311.8) scale(1 1.08)" class="tl" text-anchor="end">1500</text>
<text transform="translate(52.2 283) scale(1 1.08)" class="tl" text-anchor="end">2000</text>
<text transform="translate(52.2 254.2) scale(1 1.08)" class="tl" text-anchor="end">2500</text>
<text transform="translate(52.2 225.4) scale(1 1.08)" class="tl" text-anchor="end">3000</text>
<path d="M58 395V398 M79.49 395V396.8 M100.98 395V398 M122.47 395V396.8 M143.96 395V398 M165.45 395V396.8 M186.94 395V398 M208.43 395V396.8 M229.92 395V398 M251.41 395V396.8 M272.9 395V398 M58 395H55 M58 380.6H56.2 M58 366.2H55 M58 351.8H56.2 M58 337.4H55 M58 323H56.2 M58 308.6H55 M58 294.2H56.2 M58 279.8H55 M58 265.4H56.2 M58 251H55 M58 236.6H56.2 M58 222.2H55" stroke="#1a1a1a" stroke-width="1.1" fill="none"/>
<rect x="325.5" y="223" width="214.8" height="172.3" fill="none" stroke="#1a1a1a" stroke-width="1.3"/>
<text transform="translate(325.5 408.5) scale(1 1.08)" class="tl" text-anchor="middle">0</text>
<text transform="translate(368.46 408.5) scale(1 1.08)" class="tl" text-anchor="middle">100</text>
<text transform="translate(411.42 408.5) scale(1 1.08)" class="tl" text-anchor="middle">200</text>
<text transform="translate(454.38 408.5) scale(1 1.08)" class="tl" text-anchor="middle">300</text>
<text transform="translate(497.34 408.5) scale(1 1.08)" class="tl" text-anchor="middle">400</text>
<text transform="translate(540.3 408.5) scale(1 1.08)" class="tl" text-anchor="middle">500</text>
<text transform="translate(319.7 398.5) scale(1 1.08)" class="tl" text-anchor="end">0</text>
<text transform="translate(319.7 381.27) scale(1 1.08)" class="tl" text-anchor="end">10</text>
<text transform="translate(319.7 364.04) scale(1 1.08)" class="tl" text-anchor="end">20</text>
<text transform="translate(319.7 346.81) scale(1 1.08)" class="tl" text-anchor="end">30</text>
<text transform="translate(319.7 329.58) scale(1 1.08)" class="tl" text-anchor="end">40</text>
<text transform="translate(319.7 312.35) scale(1 1.08)" class="tl" text-anchor="end">50</text>
<text transform="translate(319.7 295.12) scale(1 1.08)" class="tl" text-anchor="end">60</text>
<text transform="translate(319.7 277.89) scale(1 1.08)" class="tl" text-anchor="end">70</text>
<text transform="translate(319.7 260.66) scale(1 1.08)" class="tl" text-anchor="end">80</text>
<text transform="translate(319.7 243.43) scale(1 1.08)" class="tl" text-anchor="end">90</text>
<text transform="translate(319.7 226.2) scale(1 1.08)" class="tl" text-anchor="end">100</text>
<path d="M325.5 395.3V398.3 M346.98 395.3V397.1 M368.46 395.3V398.3 M389.94 395.3V397.1 M411.42 395.3V398.3 M432.9 395.3V397.1 M454.38 395.3V398.3 M475.86 395.3V397.1 M497.34 395.3V398.3 M518.82 395.3V397.1 M540.3 395.3V398.3 M325.5 395.3H322.5 M325.5 386.69H323.7 M325.5 378.07H322.5 M325.5 369.45H323.7 M325.5 360.84H322.5 M325.5 352.23H323.7 M325.5 343.61H322.5 M325.5 335H323.7 M325.5 326.38H322.5 M325.5 317.76H323.7 M325.5 309.15H322.5 M325.5 300.53H323.7 M325.5 291.92H322.5 M325.5 283.31H323.7 M325.5 274.69H322.5 M325.5 266.07H323.7 M325.5 257.46H322.5 M325.5 248.84H323.7 M325.5 240.23H322.5 M325.5 231.62H323.7 M325.5 223H322.5" stroke="#1a1a1a" stroke-width="1.1" fill="none"/>
<path d="M193.2 29.3H211.5" stroke="#000" stroke-width="1.1"/>
<path d="M200.95 27.55h3.5v3.5h-3.5z" fill="#000"/>
<path d="M193.2 40H211.5" stroke="#f00" stroke-width="1.1"/>
<path d="M200.3 38.1h4.8l-2.4 3.8z" fill="#f00"/>
<text transform="translate(213.6 32.3) scale(1 1.08)" class="lg" style="font-size:8.1px">MXD6</text>
<text transform="translate(213.6 43) scale(1 1.08)" class="lg" style="font-size:8.1px">MXD6/DT/P22</text>
<path d="M455.7 29H475.3" stroke="#000" stroke-width="1.1"/>
<path d="M463.65 27.25h3.5v3.5h-3.5z" fill="#000"/>
<path d="M455.7 40H475.3" stroke="#f00" stroke-width="1.1"/>
<path d="M463 38.1h4.8l-2.4 3.8z" fill="#f00"/>
<text transform="translate(478.2 32) scale(1 1.08)" class="lg" style="font-size:8.9px">MXD6</text>
<text transform="translate(478.2 43) scale(1 1.08)" class="lg" style="font-size:8.9px">MXD6/DT/P22</text>
<path d="M67.6 242.4H88.2" stroke="#000" stroke-width="1.1"/>
<path d="M76.05 240.65h3.5v3.5h-3.5z" fill="#000"/>
<path d="M67.6 253.3H88.2" stroke="#f00" stroke-width="1.1"/>
<path d="M75.4 251.4h4.8l-2.4 3.8z" fill="#f00"/>
<text transform="translate(90.5 245.4) scale(1 1.08)" class="lg" style="font-size:8.8px">MXD6</text>
<text transform="translate(90.5 256.3) scale(1 1.08)" class="lg" style="font-size:8.8px">MXD6/DT/P22</text>
<path d="M461.9 241.5H480.4" stroke="#000" stroke-width="1.1"/>
<path d="M469.15 239.75h3.5v3.5h-3.5z" fill="#000"/>
<path d="M461.9 251.3H480.4" stroke="#f00" stroke-width="1.1"/>
<path d="M468.9 251.3a2.0 2.0 0 1 0 4 0a2.0 2.0 0 1 0 -4 0z" fill="#f00"/>
<text transform="translate(482.5 244.5) scale(1 1.08)" class="lg" style="font-size:8.1px">MXD6</text>
<text transform="translate(482.5 254.3) scale(1 1.08)" class="lg" style="font-size:8.1px">MXD6/DT/P22</text>
</svg></body></html>
